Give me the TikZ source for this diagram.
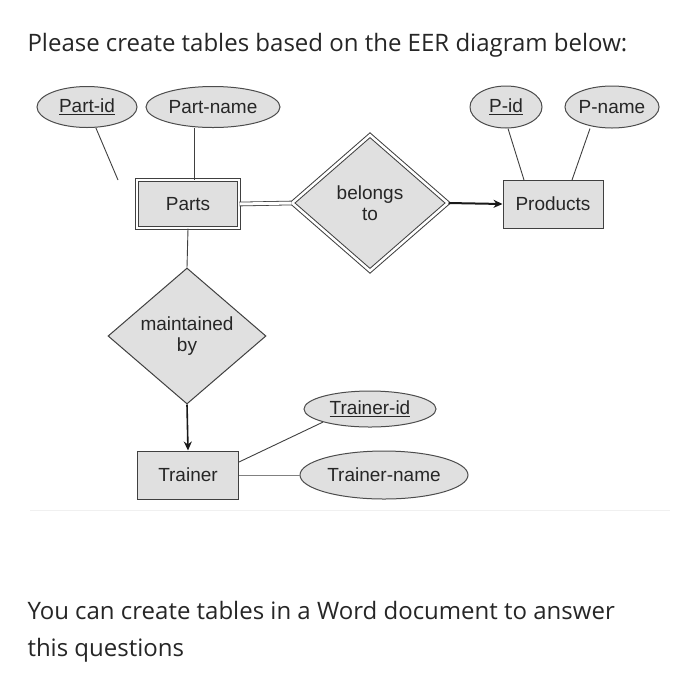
\documentclass[tikz,border=0pt]{standalone}
\usepackage{fontspec}
\setmainfont{Open Sans}
\newfontfamily\diag{Liberation Sans}
\usetikzlibrary{shapes.geometric,arrows.meta}
\begin{document}
\begin{tikzpicture}[x=1pt,y=-1pt,
  ent/.style={draw=black!75,fill=black!12,line width=1pt,minimum height=48pt,font=\diag\fontsize{19}{21}\selectfont,text=black!85,inner sep=0pt},
  attr/.style={ellipse,draw=black!70,fill=black!12,line width=1pt,inner sep=0pt,font=\diag\fontsize{19}{21}\selectfont,text=black!85},
  rel/.style={diamond,draw=black!75,fill=black!12,line width=1pt,inner sep=0pt,font=\diag\fontsize{19}{21}\selectfont,text=black!85,align=center},
  ln/.style={draw=black!75,line width=0.9pt},
  txt/.style={anchor=west,font=\fontsize{24}{30}\selectfont,text=black!85}]
\useasboundingbox (0,0) rectangle (700,689);
\fill[white] (0,0) rectangle (700,689);
\node[txt] (title) at (24,45) {Please create tables based on the EER diagram below:};
\node[attr,minimum width=100pt,minimum height=41pt] (pid) at (87,107) {\underline{Part-id}};
\node[attr,minimum width=134pt,minimum height=41pt] (pname) at (213,107) {Part-name};
\node[attr,minimum width=72pt,minimum height=42pt] (prid) at (506,107) {\underline{P-id}};
\node[attr,minimum width=94pt,minimum height=42pt] (prname) at (612,107) {P-name};
\node[ent,minimum width=102pt,double,double distance=2.5pt] (parts) at (188,204) {Parts};
\node[ent,minimum width=100pt] (prod) at (553,204) {Products};
\node[rel,minimum width=156pt,minimum height=136pt,double,double distance=2.5pt] (bel) at (370,203) {belongs\\to};
\node[rel,minimum width=158pt,minimum height=136pt] (mnt) at (187,336) {maintained\\by};
\node[ent,minimum width=101pt] (tr) at (188,475) {Trainer};
\node[attr,minimum width=132pt,minimum height=36pt] (tid) at (370,409) {\underline{Trainer-id}};
\node[attr,minimum width=168pt,minimum height=48pt] (tname) at (384,475) {Trainer-name};
\coordinate (c1) at (118,180);
\draw[ln] (pid) -- (c1);
\draw[ln] (pname.south -| 194,0) -- (194,180);
\draw[ln] (prid.south) ++(2,0) -- (524,180);
\draw[ln] (prname.south) ++(-22,0) -- (572,180);
\draw[ln,double,double distance=3pt,line width=0.8pt] (parts.east) -- (bel.west);
\draw[line width=2pt,black!90,-{Stealth[length=9pt,width=8pt]}] (bel.east) -- (prod.west);
\draw[ln] (parts.south) -- (mnt.north);
\draw[line width=1.6pt,black!90,-{Stealth[length=9pt,width=8pt]}] (mnt.south) -- (tr.north);
\draw[ln] (tr.east |- 0,462) -- (tid.south west);
\draw[ln,black!50] (tr.east) -- (tname.west);
\draw[black!6,line width=1pt] (30,510) -- (670,510);
\node[txt] (q1) at (24,610) {You can create tables in a Word document to answer};
\node[txt] (q2) at (24,650) {this questions};
\end{tikzpicture}
\end{document}
